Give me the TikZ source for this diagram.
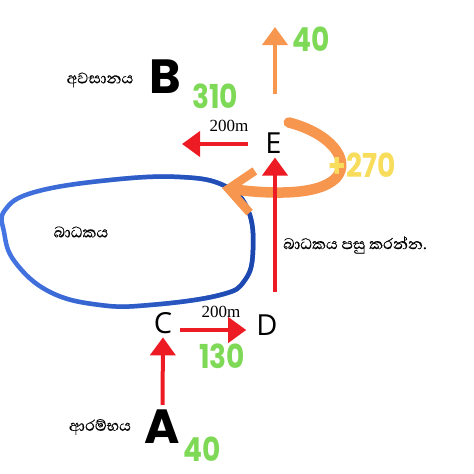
\documentclass[tikz,border=0pt]{standalone}
\usepackage{fontspec}
\usepackage{tikz}
\usetikzlibrary{arrows.meta,calc,fadings,positioning}
\newfontfamily\sinfont[Script=Sinhala,FakeBold=0.3]{Abhaya Libre}
\newfontfamily\ptfont{Open Sans}
\newfontfamily\bigfont{Poppins}
\newfontfamily\distfont{Liberation Serif}
\definecolor{arrred}{HTML}{ED1C24}
\definecolor{numgreen}{HTML}{7ED957}
\definecolor{turnorange}{HTML}{F7964F}
\definecolor{angyellow}{HTML}{F8DC5B}
\definecolor{blobdark}{HTML}{1B47AE}
\definecolor{bloblight}{HTML}{4676E4}
\tikzset{pt/.style={inner sep=0pt, font=\ptfont\fontsize{29}{30}\selectfont}}
\tikzstyle{big}=[inner sep=0pt, font=\bigfont\bfseries\fontsize{48}{48}\selectfont]
\tikzstyle{num}=[inner sep=0pt, text=numgreen, font=\bigfont\bfseries\fontsize{33}{33}\selectfont, xscale=0.85]
\tikzstyle{dist}=[inner sep=0pt, font=\distfont\fontsize{17}{17}\selectfont]
\tikzstyle{sin}=[inner sep=0pt, text=black, font=\sinfont\fontsize{19.5}{20}\selectfont]
\tikzstyle{redarr}=[draw=arrred, line width=4pt, ->]
\tikzstyle{orarr}=[draw=turnorange, line width=4pt, ->]
\tikzstyle{blobline}=[line width=4.5pt]

\begin{document}
\begin{tikzpicture}[x=1pt, y=-1pt, >={Triangle[width=25pt,length=18pt]}]
\useasboundingbox (0,0) rectangle (474,474);
\draw[blobline, bloblight] plot[smooth cycle, tension=0.7] coordinates {(5,210) (35,192) (110,180) (180,177) (225,186) (248,210) (253,250) (245,280) (220,295) (150,305) (100,305) (50,292) (15,262) (4,232)};
\draw[blobline, blobdark, path fading=west] plot[smooth cycle, tension=0.7] coordinates {(5,210) (35,192) (110,180) (180,177) (225,186) (248,210) (253,250) (245,280) (220,295) (150,305) (100,305) (50,292) (15,262) (4,232)};
\node[sin] (obst) at (81,232) {බාධකය};
\node[sin] (pass) at (355,245) {බාධකය පසු කරන්න.};
\node[sin] (start) at (100,427) {ආරම්භය};
\node[sin] (finish) at (100,80) {අවසානය};
\node[big] (A) at (162.5,427) {A};
\node[big] (B) at (165,77) {B};
\node[pt] (C) at (163,323) {C};
\node[pt] (D) at (267,325) {D};
\node[pt] (E) at (273.5,143) {E};
\node[num] (nA) at (202,449) {40};
\node[num] (nC) at (222,356) {130};
\node[num] (nE) at (215,96.5) {310};
\node[num] (nN) at (311,39) {40};
\node[dist] (dCD) at (221,312) {200m};
\node[dist] (dE) at (229,125.5) {200m};
\coordinate (west) at (182,144);
\coordinate (north) at (275,27);
\coordinate (hit) at (222,188);
\draw[draw=turnorange, line width=10.5pt, line cap=round, -{Straight Barb[length=24pt,width=42pt,line width=8.5pt]}] ([xshift=7pt,yshift=10pt]E.north east) .. controls (330,133) and (352,160) .. (336,178) .. controls (318,196) and (270,194) .. (hit);
\node[num, text=angyellow] (turn) at (362,165) {+270};
\draw[redarr] ([yshift=5pt]A.north) -- ([yshift=-3.5pt]C.south);
\draw[redarr] ([xshift=8pt,yshift=-7pt]C.east) -- ([xshift=-10pt,yshift=-5pt]D.west);
\draw[redarr] ([xshift=8pt,yshift=22pt]D.north) -- ([xshift=1.5pt,yshift=-4pt]E.south);
\draw[redarr] ([xshift=-17pt,yshift=-1pt]E.west) -- (west);
\draw[orarr] ([xshift=1.5pt,yshift=38pt]E.north) -- (north);
\end{tikzpicture}
\end{document}
